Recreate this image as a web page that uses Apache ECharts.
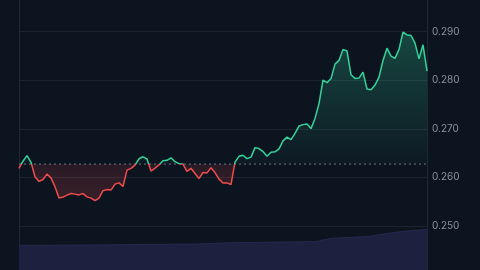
<!DOCTYPE html>
<html>
<head>
<meta charset="utf-8">
<script src="https://cdn.jsdelivr.net/npm/echarts@6/dist/echarts.min.js"></script>
<style>
html,body{margin:0;padding:0;background:#0c1420;}
#chart{width:480px;height:270px;}
</style>
</head>
<body>
<div id="chart"></div>
<script>
const prices = [
0.26185,0.26333,0.26449,0.26311,0.26012,0.25918,0.25957,0.26068,0.25990,0.25807,
0.25578,0.25595,0.25636,0.25669,0.25656,0.25640,0.25667,0.25599,0.25574,0.25523,
0.25574,0.25726,0.25749,0.25739,0.25862,0.25887,0.25813,0.26150,0.26185,0.26253,
0.26383,0.26424,0.26379,0.26130,0.26191,0.26257,0.26342,0.26352,0.26403,0.26323,
0.26282,0.26274,0.26123,0.26187,0.26080,0.25975,0.26101,0.26093,0.26200,0.26099,
0.25965,0.25883,0.25887,0.25854,0.26315,0.26434,0.26455,0.26387,0.26418,0.26613,
0.26593,0.26531,0.26434,0.26516,0.26527,0.26586,0.26751,0.26829,0.26778,0.26905,
0.27056,0.27086,0.27097,0.27004,0.27214,0.27519,0.28002,0.27949,0.28033,0.28331,
0.28407,0.28634,0.28601,0.28111,0.28037,0.28043,0.28167,0.27819,0.27802,0.27899,
0.28064,0.28405,0.28660,0.28496,0.28449,0.28634,0.28990,0.28932,0.28920,0.28763,
0.28438,0.28728,0.28187
];
const baseline = 0.26274;
const volume = [
10.05,10.05,10.06,10.06,10.07,10.07,10.08,10.08,10.09,10.09,10.1,10.1,10.1,10.11,10.11,10.12,10.12,10.13,10.13,10.14,10.15,
10.17,10.18,10.2,10.21,10.22,10.24,10.25,10.26,10.28,10.29,10.3,10.32,10.33,10.34,10.36,10.37,10.38,10.4,10.41,10.42,10.44,10.45,10.46,10.48,10.49,
10.55,10.6,10.66,10.72,10.78,10.83,10.88,10.93,
10.95,10.97,10.98,11.0,11.02,11.03,11.05,11.07,11.08,11.1,11.12,11.13,11.15,11.17,11.18,11.2,11.22,11.23,11.25,11.27,11.28,
11.55,11.85,12.15,12.42,
12.5,12.57,12.64,12.7,12.77,12.84,12.9,12.95,13.0,
13.2,13.45,13.7,13.92,
14.1,14.3,14.5,14.68,
14.8,14.92,15.05,15.17,15.28,15.38,15.47
];
const categories = prices.map((_, i) => 't' + i);
const priceTicks = [0.25, 0.26, 0.27, 0.28, 0.29];

const green = '#34d399';
const red = '#ef4b4b';
const grid = '#1b2430';

const chart = echarts.init(document.getElementById('chart'), null, {renderer: 'canvas'});
const option = {
  animation: false,
  backgroundColor: '#0c1420',
  grid: {left: 19, right: 53, top: -17, bottom: -4.6, outerBoundsMode: 'none', containLabel: false},
  xAxis: {type: 'category', data: categories, boundaryGap: false, show: false},
  yAxis: [
    {
      type: 'value', position: 'right', min: 0.24, max: 0.30, interval: 0.01,
      axisLine: {show: true, lineStyle: {color: '#1f2835'}},
      axisTick: {show: false},
      splitLine: {lineStyle: {color: grid, width: 1}},
      axisLabel: {
        color: '#8b93a1', fontSize: 10, fontFamily: 'Inter, sans-serif', margin: 5,
        formatter: v => priceTicks.some(t => Math.abs(t - v) < 1e-6) ? v.toFixed(3) : ''
      }
    },
    {
      type: 'value', position: 'left', min: 0, max: 100,
      axisLine: {show: true, lineStyle: {color: '#1f2835'}},
      axisTick: {show: false}, axisLabel: {show: false}, splitLine: {show: false}
    }
  ],
  series: [
    {
      type: 'line', yAxisIndex: 1, data: volume, symbol: 'none',
      lineStyle: {color: '#252a4c', width: 1},
      areaStyle: {color: '#1c2140', opacity: 1}
    },
    {
      type: 'line', data: prices.map(v => Math.max(v, baseline)), symbol: 'none',
      lineStyle: {opacity: 0},
      areaStyle: {
        origin: baseline,
        color: new echarts.graphic.LinearGradient(0, 0, 0, 1, [
          {offset: 0, color: 'rgba(52,211,153,0.38)'},
          {offset: 1, color: 'rgba(52,211,153,0.04)'}
        ])
      }
    },
    {
      type: 'line', data: prices.map(v => Math.min(v, baseline)), symbol: 'none',
      lineStyle: {opacity: 0},
      areaStyle: {
        origin: baseline,
        color: new echarts.graphic.LinearGradient(0, 0, 0, 1, [
          {offset: 0, color: 'rgba(239,75,75,0.18)'},
          {offset: 1, color: 'rgba(239,75,75,0.28)'}
        ])
      }
    },
    {
      type: 'line', data: prices.map(() => baseline), symbol: 'none',
      lineStyle: {color: '#707888', type: [2, 3], width: 1}
    },
    {
      type: 'line', data: prices, symbol: 'none',
      lineStyle: {width: 1.5, color: green}
    }
  ]
};
chart.setOption(option);
const by = chart.convertToPixel({yAxisIndex: 0}, baseline);
const f = Math.min(Math.max(by / 270, 0), 1);
chart.setOption({
  series: [{}, {}, {}, {}, {
    lineStyle: {
      color: new echarts.graphic.LinearGradient(0, 0, 0, 270, [
        {offset: 0, color: green},
        {offset: f, color: green},
        {offset: f, color: red},
        {offset: 1, color: red}
      ], true)
    }
  }]
});
</script>
</body>
</html>
